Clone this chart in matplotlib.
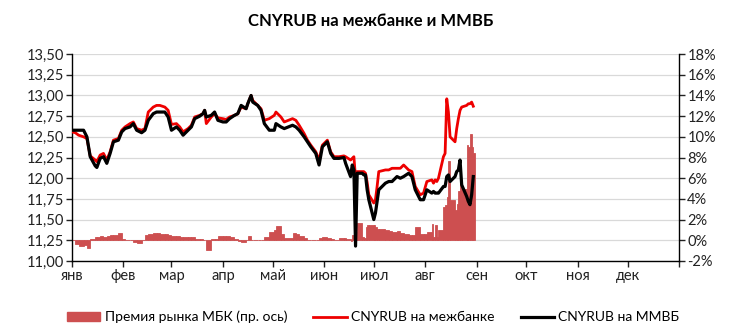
import pandas as pd
import matplotlib
matplotlib.use("Agg")
import matplotlib.pyplot as plt
from matplotlib.patches import Patch
from matplotlib.lines import Line2D
from matplotlib.ticker import FuncFormatter, MultipleLocator

plt.rcParams["font.family"] = ["Lato", "DejaVu Sans"]

# daily points (2024)
dates = [
    "01-01", "01-03", "01-05", "01-08", "01-10", "01-12", "01-15", "01-16", "01-18", "01-20",
    "01-22", "01-24", "01-26", "01-29", "01-31", "02-02", "02-05", "02-07", "02-09", "02-12",
    "02-14", "02-16", "02-19", "02-21", "02-23", "02-26", "02-28", "03-01", "03-04", "03-06",
    "03-08", "03-11", "03-13", "03-15", "03-18", "03-20", "03-21", "03-22", "03-25", "03-27",
    "03-29", "04-01", "04-03", "04-05", "04-08", "04-10", "04-12", "04-15", "04-16", "04-18",
    "04-19", "04-22", "04-24", "04-26", "04-29", "05-02", "05-03", "05-06", "05-08", "05-13",
    "05-15", "05-17", "05-20", "05-22", "05-24", "05-27", "05-29", "05-31", "06-03", "06-05",
    "06-07", "06-10", "06-13", "06-14", "06-17", "06-18", "06-19", "06-20", "06-21", "06-24",
    "06-25", "06-26", "06-27", "06-28", "07-01", "07-02", "07-03", "07-04", "07-08", "07-10",
    "07-12", "07-15", "07-17", "07-19", "07-22", "07-24", "07-26", "07-29", "07-31", "08-02",
    "08-05", "08-06", "08-07", "08-08", "08-09", "08-12", "08-13", "08-14", "08-15", "08-16",
    "08-19", "08-20", "08-21", "08-22", "08-23", "08-26", "08-27", "08-28", "08-29", "08-30",
]

cnyrub_moex = [
    12.58, 12.58, 12.58, 12.58, 12.50, 12.26, 12.15, 12.13, 12.24, 12.26,
    12.18, 12.30, 12.44, 12.46, 12.56, 12.60, 12.62, 12.66, 12.58, 12.55,
    12.58, 12.70, 12.78, 12.80, 12.80, 12.80, 12.74, 12.58, 12.62, 12.58,
    12.52, 12.58, 12.62, 12.72, 12.75, 12.78, 12.82, 12.74, 12.76, 12.80,
    12.70, 12.68, 12.68, 12.72, 12.76, 12.78, 12.88, 12.84, 12.90, 13.00,
    12.92, 12.88, 12.82, 12.66, 12.58, 12.58, 12.66, 12.62, 12.60, 12.64,
    12.62, 12.58, 12.50, 12.44, 12.38, 12.30, 12.16, 12.38, 12.44, 12.30,
    12.24, 12.24, 12.25, 12.18, 12.02, 12.16, 12.10, 11.18, 12.06, 12.06,
    12.04, 12.04, 11.86, 11.74, 11.50, 11.58, 11.72, 11.86, 11.94, 11.96,
    11.96, 12.02, 12.00, 12.02, 12.06, 12.02, 11.86, 11.74, 11.74, 11.86,
    11.82, 11.84, 11.82, 11.82, 11.82, 11.90, 11.90, 12.02, 12.04, 11.96,
    12.02, 12.08, 12.10, 12.22, 11.92, 11.78, 11.72, 11.68, 11.80, 12.02,
]

cnyrub_interbank = [
    12.56, 12.55, 12.52, 12.50, 12.48, 12.27, 12.22, 12.20, 12.28, 12.30,
    12.22, 12.32, 12.46, 12.48, 12.58, 12.62, 12.66, 12.68, 12.60, 12.58,
    12.60, 12.80, 12.86, 12.88, 12.88, 12.86, 12.82, 12.65, 12.66, 12.62,
    12.56, 12.60, 12.64, 12.74, 12.76, 12.78, 12.82, 12.66, 12.74, 12.78,
    12.73, 12.72, 12.71, 12.74, 12.76, 12.78, 12.86, 12.84, 12.90, 13.00,
    12.94, 12.88, 12.84, 12.70, 12.72, 12.76, 12.80, 12.74, 12.68, 12.72,
    12.70, 12.64, 12.54, 12.46, 12.40, 12.32, 12.22, 12.40, 12.46, 12.32,
    12.26, 12.26, 12.27, 12.26, 12.22, 12.24, 12.26, 12.00, 12.08, 12.08,
    12.08, 12.06, 11.95, 11.80, 11.70, 11.74, 11.90, 12.08, 12.10, 12.10,
    12.12, 12.12, 12.12, 12.16, 12.10, 12.08, 11.90, 11.80, 11.82, 11.96,
    11.98, 11.94, 11.98, 11.96, 12.00, 12.26, 12.30, 12.96, 12.80, 12.50,
    12.44, 12.60, 12.72, 12.82, 12.86, 12.88, 12.90, 12.90, 12.92, 12.87,
]

premium_pct = [
    0.0, -0.4, -0.6, -0.5, -0.75, 0.1, 0.3, 0.3, 0.4, 0.3,
    0.4, 0.5, 0.5, 0.7, 0.1, 0.0, 0.0, -0.2, -0.3, 0.0,
    0.5, 0.6, 0.7, 0.7, 0.6, 0.6, 0.5, 0.4, 0.4, 0.3,
    0.3, 0.3, 0.3, 0.1, 0.1, 0.0, 0.0, -0.9, 0.1, 0.1,
    0.4, 0.45, 0.4, 0.3, 0.1, -0.1, -0.15, 0.0, 0.45, 0.0,
    0.0, 0.0, 0.0, 0.3, 0.8, 1.0, 1.35, 0.6, 0.2, 0.7,
    0.6, 0.4, 0.2, 0.0, 0.0, 0.0, 0.2, 0.3, 0.2, 0.1,
    0.0, 0.2, 0.2, 0.1, -0.1, 0.5, 0.8, 0.8, 1.7, 0.3,
    0.2, 1.3, 1.5, 1.5, 1.5, 1.3, 1.1, 1.1, 1.0, 0.9,
    0.8, 0.9, 0.7, 0.6, 0.5, 0.5, 1.3, 0.6, 0.6, 0.8,
    1.6, 0.3, 1.5, 0.3, 1.0, 3.2, 3.4, 4.2, 7.7, 3.9,
    2.9, 3.5, 4.8, 5.8, 5.0, 9.2, 9.0, 10.3, 9.0, 8.4,
]

month_labels = ["янв", "фев", "мар", "апр", "май", "июн", "июл", "авг", "сен", "окт", "ноя", "дек", ""]

bar_color = "#CD4F50"

x = pd.to_datetime(["2024-" + d for d in dates])
widths = list((x[1:] - x[:-1]).days) + [1]

fig = plt.figure(figsize=(7.42, 3.32), dpi=100)
ax = fig.add_axes([0.097, 0.214, 0.818, 0.623])
ax2 = ax.twinx()
ax.set_zorder(ax2.get_zorder() + 1)
ax.patch.set_visible(False)

ax2.bar(x, premium_pct, width=widths, align="edge", color=bar_color,
        edgecolor=bar_color, linewidth=0.6, zorder=2)
ax.plot(x, cnyrub_interbank, color="#EE0000", lw=2.0, zorder=3)
ax.plot(x, cnyrub_moex, color="black", lw=2.3, zorder=4)

ticks = pd.date_range("2024-01-01", "2025-01-01", freq="MS")
ax.set_xlim(ticks[0], ticks[-1])
ax.set_xticks(ticks)
ax.set_xticklabels(month_labels)

ax.set_ylim(11.0, 13.5)
ax.yaxis.set_major_locator(MultipleLocator(0.25))
ax.yaxis.set_major_formatter(FuncFormatter(lambda v, p: f"{v:.2f}".replace(".", ",")))
ax2.set_ylim(-2, 18)
ax2.yaxis.set_major_locator(MultipleLocator(2))
ax2.yaxis.set_major_formatter(FuncFormatter(lambda v, p: f"{v:.0f}%"))

ax2.grid(True, axis="both", color="#D9D9D9", lw=0.9, zorder=0)
ax2.set_axisbelow(True)

for a in (ax, ax2):
    a.spines["top"].set_visible(False)
    a.tick_params(labelsize=10.5, length=4, width=1, colors="#222222", pad=2)
ax.spines["right"].set_visible(False)
ax.spines["left"].set_linewidth(1.0)
ax.spines["bottom"].set_linewidth(1.0)
ax2.spines["left"].set_visible(False)
ax2.spines["bottom"].set_visible(False)
ax2.spines["right"].set_linewidth(1.0)

fig.suptitle("CNYRUB на межбанке и ММВБ", x=0.5, y=0.96, fontsize=12, fontweight="bold")

handles = [
    Patch(color=bar_color),
    Line2D([], [], color="#EE0000", lw=2.0),
    Line2D([], [], color="black", lw=2.3),
]
labels = ["Премия рынка МБК (пр. ось)", "CNYRUB на межбанке", "CNYRUB на ММВБ"]
fig.legend(handles, labels, loc="center", bbox_to_anchor=(0.503, 0.045), ncol=3, frameon=False,
           fontsize=10, handlelength=2.4, handleheight=0.6, handletextpad=0.3, columnspacing=1.9)

fig.savefig("out.png", dpi=100)
